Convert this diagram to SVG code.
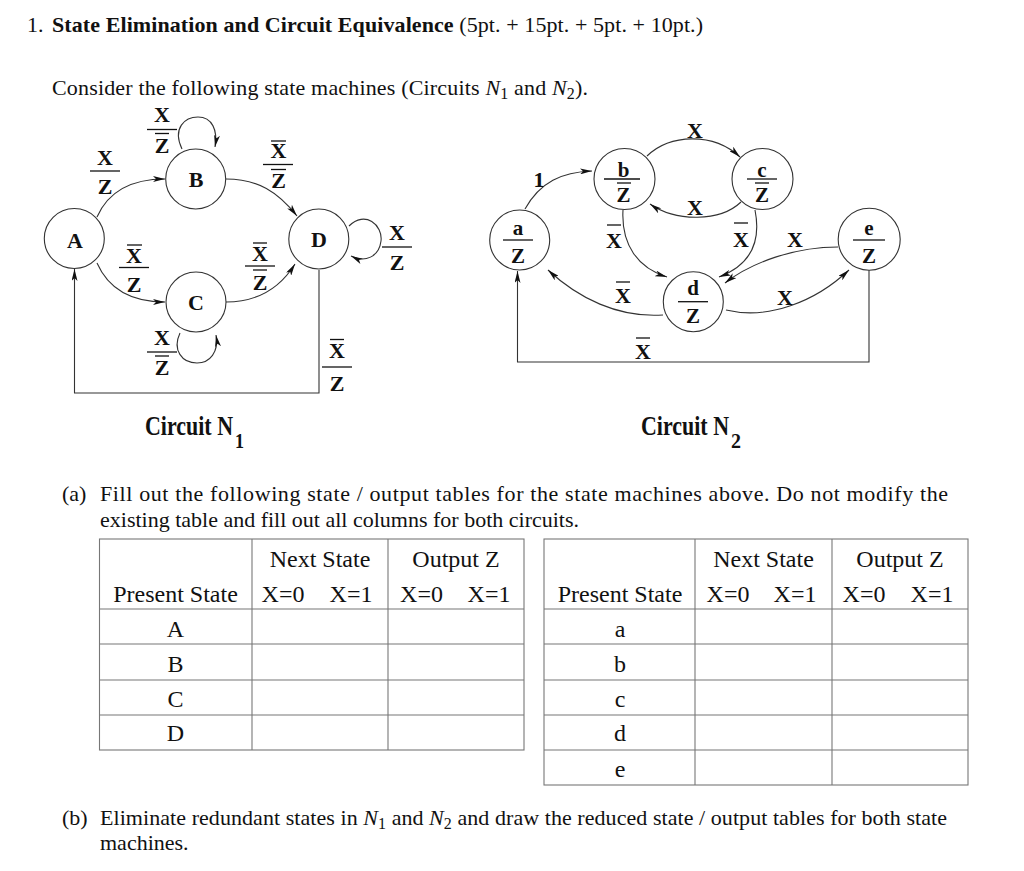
<svg xmlns="http://www.w3.org/2000/svg" width="1024" height="871" viewBox="0 0 1024 871">
<style>
.body{font-family:"Liberation Serif","DejaVu Serif",serif;font-size:22px;fill:#111}
.tb{font-family:"Liberation Serif","DejaVu Serif",serif;font-size:24px;fill:#111;text-anchor:middle}
.lb{font-family:"Liberation Serif","DejaVu Serif",serif;font-size:22px;font-weight:bold;fill:#111;text-anchor:middle}
.lb2{font-family:"Liberation Serif","DejaVu Serif",serif;font-size:21px;font-weight:bold;fill:#111;text-anchor:middle}
.cap{font-family:"Liberation Serif","DejaVu Serif",serif;font-weight:bold;fill:#111}
.node{fill:#fff;stroke:#333;stroke-width:1.1}
.edge{fill:none;stroke:#333;stroke-width:1.1}
.bar{stroke:#111;stroke-width:1.3}
.grid{fill:none;stroke:#777;stroke-width:1.1}
</style>
<defs>
<marker id="ah" viewBox="0 0 12 6" refX="12" refY="3" markerWidth="12" markerHeight="6" orient="auto" markerUnits="userSpaceOnUse">
<path d="M0,0 L12,3 L0,6 L3,3 z" fill="#111"/>
</marker>
</defs>
<rect width="1024" height="871" fill="#fff"/>

<!-- Text -->
<text class="body" x="27" y="32">1.</text>
<text class="body" x="52" y="32" textLength="651" lengthAdjust="spacing"><tspan font-weight="bold">State Elimination and Circuit Equivalence</tspan> (5pt. + 15pt. + 5pt. + 10pt.)</text>
<text class="body" x="52" y="95" textLength="536" lengthAdjust="spacing">Consider the following state machines (Circuits <tspan font-style="italic">N</tspan><tspan font-size="16" dy="4">1</tspan><tspan dy="-4"> and </tspan><tspan font-style="italic">N</tspan><tspan font-size="16" dy="4">2</tspan><tspan dy="-4">).</tspan></text>

<text class="cap" x="145" y="435" font-size="27" textLength="88" lengthAdjust="spacingAndGlyphs">Circuit N</text>
<text class="cap" x="235" y="448" font-size="20" textLength="9" lengthAdjust="spacingAndGlyphs">1</text>
<text class="cap" x="641" y="435" font-size="27" textLength="88" lengthAdjust="spacingAndGlyphs">Circuit N</text>
<text class="cap" x="731" y="448" font-size="20" textLength="10" lengthAdjust="spacingAndGlyphs">2</text>

<text class="body" x="62" y="501">(a)</text>
<text class="body" x="100" y="501" textLength="848" lengthAdjust="spacing">Fill out the following state / output tables for the state machines above.  Do not modify the</text>
<text class="body" x="100" y="527">existing table and fill out all columns for both circuits.</text>

<text class="body" x="62" y="825">(b)</text>
<text class="body" x="100" y="825" textLength="847" lengthAdjust="spacing">Eliminate redundant states in <tspan font-style="italic">N</tspan><tspan font-size="16" dy="4">1</tspan><tspan dy="-4"> and </tspan><tspan font-style="italic">N</tspan><tspan font-size="16" dy="4">2</tspan><tspan dy="-4"> and draw the reduced state / output tables for both state</tspan></text>
<text class="body" x="100" y="850">machines.</text>

<!-- Connectors -->
<g id="connectors">
<!-- N1 -->
<path class="edge" marker-end="url(#ah)" d="M97,217 C108,192 130,179 165,179"/>
<path class="edge" marker-end="url(#ah)" d="M97,263 C108,288 130,302 165,302"/>
<path class="edge" marker-end="url(#ah)" d="M226,179 C258,179 278,192 297,216"/>
<path class="edge" marker-end="url(#ah)" d="M226,302 C258,302 280,288 295,264"/>
<path class="edge" marker-end="url(#ah)" d="M182,149 C172,128 185,117 198,117 C212,117 218,130 215,147"/>
<path class="edge" marker-end="url(#ah)" d="M180,333 C172,350 182,363 197,363 C210,363 219,352 216,335"/>
<path class="edge" marker-end="url(#ah)" d="M349,226 C365,210 383,225 381,241 C379,257 365,263 351,256"/>
<path class="edge" marker-end="url(#ah)" d="M319,270 L319,393 L74.5,393 L74.5,269"/>
<!-- N2 -->
<path class="edge" marker-end="url(#ah)" d="M525,209 C540,182 562,172 592,171"/>
<path class="edge" marker-end="url(#ah)" d="M647,156 C670,134 713,132 740,157"/>
<path class="edge" marker-end="url(#ah)" d="M741,202 C720,222 676,222 650,204"/>
<path class="edge" marker-end="url(#ah)" d="M623,210 C621,245 638,268 667,277"/>
<path class="edge" marker-end="url(#ah)" d="M663,315 C618,318 578,298 548,270"/>
<path class="edge" marker-end="url(#ah)" d="M755,210 C762,245 748,266 719,277"/>
<path class="edge" marker-end="url(#ah)" d="M838,247 C795,247 752,262 725,283"/>
<path class="edge" marker-end="url(#ah)" d="M726,310 C768,320 815,302 849,270"/>
<path class="edge" marker-end="url(#ah)" d="M869,270 L869,362 L517.5,362 L517.5,271"/>

<!-- N1 edge labels -->
<text class="lb" x="105" y="165">X</text><line class="bar" x1="90" y1="171" x2="120" y2="171"/><text class="lb" x="105" y="194">Z</text>
<text class="lb" x="162" y="122">X</text><line class="bar" x1="147" y1="129.5" x2="177" y2="129.5"/><line class="bar" x1="155" y1="133.5" x2="169" y2="133.5"/><text class="lb" x="162" y="153">Z</text>
<line class="bar" x1="127" y1="245" x2="142" y2="245"/><text class="lb" x="134" y="263">X</text><line class="bar" x1="119" y1="267.5" x2="149" y2="267.5"/><text class="lb" x="134" y="292">Z</text>
<text class="lb" x="162" y="345">X</text><line class="bar" x1="147" y1="352" x2="177" y2="352"/><line class="bar" x1="155" y1="356" x2="169" y2="356"/><text class="lb" x="162" y="375">Z</text>
<line class="bar" x1="271" y1="141" x2="286" y2="141"/><text class="lb" x="278.5" y="158">X</text><line class="bar" x1="263" y1="164.5" x2="293" y2="164.5"/><line class="bar" x1="271" y1="169.5" x2="286" y2="169.5"/><text class="lb" x="278.5" y="188">Z</text>
<line class="bar" x1="253" y1="243" x2="267" y2="243"/><text class="lb" x="260" y="261">X</text><line class="bar" x1="245" y1="266" x2="275" y2="266"/><line class="bar" x1="253" y1="270" x2="267" y2="270"/><text class="lb" x="260" y="290">Z</text>
<text class="lb" x="397" y="240">X</text><line class="bar" x1="382" y1="247" x2="412" y2="247"/><text class="lb" x="397" y="270">Z</text>
<line class="bar" x1="330" y1="339.5" x2="344" y2="339.5"/><text class="lb" x="337" y="358">X</text><line class="bar" x1="322" y1="367" x2="352" y2="367"/><text class="lb" x="337" y="391">Z</text>

<!-- N2 edge labels -->
<text class="lb" x="539" y="187">1</text>
<text class="lb" x="695" y="138">X</text>
<text class="lb" x="695" y="215">X</text>
<line class="bar" x1="607" y1="225" x2="621" y2="225"/><text class="lb" x="614" y="248">X</text>
<line class="bar" x1="616" y1="282" x2="630" y2="282"/><text class="lb" x="623" y="303">X</text>
<line class="bar" x1="734" y1="223" x2="748" y2="223"/><text class="lb" x="741" y="247">X</text>
<text class="lb" x="795" y="247">X</text>
<text class="lb" x="785" y="305">X</text>
<line class="bar" x1="636" y1="338" x2="650" y2="338"/><text class="lb" x="643" y="359">X</text>
</g>

<!-- N1 nodes -->
<g id="node-A"><circle class="node" cx="74.3" cy="238.5" r="30"/><text class="lb" x="75" y="248">A</text></g>
<g id="node-B"><circle class="node" cx="195.7" cy="179" r="30"/><text class="lb" x="196" y="187">B</text></g>
<g id="node-C"><circle class="node" cx="196" cy="302" r="30"/><text class="lb" x="196" y="310">C</text></g>
<g id="node-D"><circle class="node" cx="318.8" cy="239" r="30"/><text class="lb" x="319" y="247">D</text></g>

<!-- N2 nodes -->
<g id="node-a"><circle class="node" cx="519.7" cy="240" r="30"/><text class="lb2" x="518" y="235">a</text><line class="bar" x1="503" y1="240" x2="533" y2="240"/><text class="lb2" x="518" y="263">Z</text></g>
<g id="node-b"><circle class="node" cx="624.5" cy="179" r="30.5"/><text class="lb2" x="623.5" y="176.5">b</text><line class="bar" x1="604" y1="179" x2="640" y2="179"/><line class="bar" x1="617" y1="183" x2="631" y2="183"/><text class="lb2" x="623.5" y="201.5">Z</text></g>
<g id="node-c"><circle class="node" cx="762.5" cy="179" r="30.5"/><text class="lb2" x="762" y="176.5">c</text><line class="bar" x1="747" y1="179" x2="777" y2="179"/><line class="bar" x1="755" y1="183" x2="769" y2="183"/><text class="lb2" x="762" y="201.5">Z</text></g>
<g id="node-d"><circle class="node" cx="693.3" cy="301.7" r="30"/><text class="lb2" x="693" y="295">d</text><line class="bar" x1="678" y1="301.7" x2="708" y2="301.7"/><text class="lb2" x="693" y="323">Z</text></g>
<g id="node-e"><circle class="node" cx="869.2" cy="239.2" r="31"/><text class="lb2" x="869" y="235">e</text><line class="bar" x1="853" y1="240" x2="885" y2="240"/><text class="lb2" x="869" y="263">Z</text></g>

<!-- Table N1 -->
<g id="table-N1">
<rect class="grid" x="99.5" y="539" width="424.5" height="211"/>
<line class="grid" x1="252" y1="539" x2="252" y2="750"/>
<line class="grid" x1="388" y1="539" x2="388" y2="750"/>
<line class="grid" x1="99.5" y1="609" x2="524" y2="609"/>
<line class="grid" x1="99.5" y1="644" x2="524" y2="644"/>
<line class="grid" x1="99.5" y1="680" x2="524" y2="680"/>
<line class="grid" x1="99.5" y1="715" x2="524" y2="715"/>
<text class="tb" x="320" y="567">Next State</text>
<text class="tb" x="456" y="567">Output Z</text>
<text class="tb" x="175.5" y="601.5">Present State</text>
<text class="tb" x="283" y="601.5">X=0</text>
<text class="tb" x="351" y="601.5">X=1</text>
<text class="tb" x="421.5" y="601.5">X=0</text>
<text class="tb" x="489" y="601.5">X=1</text>
<text class="tb" x="175.5" y="637">A</text>
<text class="tb" x="175.5" y="672">B</text>
<text class="tb" x="175.5" y="707">C</text>
<text class="tb" x="175.5" y="741">D</text>
</g>

<!-- Table N2 -->
<g id="table-N2">
<rect class="grid" x="544" y="539" width="424" height="246"/>
<line class="grid" x1="695" y1="539" x2="695" y2="785"/>
<line class="grid" x1="832" y1="539" x2="832" y2="785"/>
<line class="grid" x1="544" y1="609" x2="968" y2="609"/>
<line class="grid" x1="544" y1="644" x2="968" y2="644"/>
<line class="grid" x1="544" y1="680" x2="968" y2="680"/>
<line class="grid" x1="544" y1="715" x2="968" y2="715"/>
<line class="grid" x1="544" y1="750" x2="968" y2="750"/>
<text class="tb" x="763.5" y="567">Next State</text>
<text class="tb" x="900" y="567">Output Z</text>
<text class="tb" x="620" y="601.5">Present State</text>
<text class="tb" x="728" y="601.5">X=0</text>
<text class="tb" x="795" y="601.5">X=1</text>
<text class="tb" x="864" y="601.5">X=0</text>
<text class="tb" x="932" y="601.5">X=1</text>
<text class="tb" x="620" y="637">a</text>
<text class="tb" x="620" y="672">b</text>
<text class="tb" x="620" y="707">c</text>
<text class="tb" x="620" y="741">d</text>
<text class="tb" x="620" y="777">e</text>
</g>
</svg>
